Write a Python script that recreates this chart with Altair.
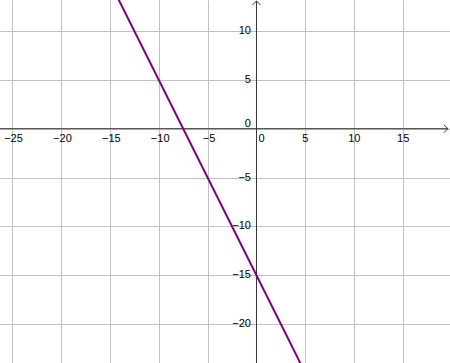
import altair as alt
import pandas as pd

x_domain = [-26.23, 19.79]
y_domain = [-23.96, 13.16]
grid_x = [-25, -20, -15, -10, -5, 0, 5, 10, 15]
grid_y = [-20, -15, -10, -5, 0, 5, 10]
xlab_neg = [-25, -20, -15, -10, -5]
xlab_pos = [5, 10, 15]
ylab = [-20, -15, -10, -5, 5, 10]
line_x = [-15, 5]
line_y = [15, -25]
arrow_x_tip = 19.58
arrow_y_tip = 13.06

xs = alt.Scale(domain=x_domain, nice=False, zero=False)
ys = alt.Scale(domain=y_domain, nice=False, zero=False)

grid_axis_x = alt.Axis(values=grid_x, grid=True, labels=False, ticks=False, domain=False,
                       title=None, gridColor="#c0c0c0", gridWidth=1)
grid_axis_y = alt.Axis(values=grid_y, grid=True, labels=False, ticks=False, domain=False,
                       title=None, gridColor="#c0c0c0", gridWidth=1)

line_df = pd.DataFrame({"x": line_x, "y": line_y})
base = alt.Chart(line_df)

grid = base.mark_line(opacity=0).encode(
    x=alt.X("x:Q", scale=xs, axis=grid_axis_x),
    y=alt.Y("y:Q", scale=ys, axis=grid_axis_y),
)

axis_col = "#333333"
xaxis_line = alt.Chart(pd.DataFrame({"y": [0]})).mark_rule(color=axis_col, strokeWidth=1).encode(
    y=alt.Y("y:Q", scale=ys), x=alt.value(0), x2=alt.value(448))
yaxis_line = alt.Chart(pd.DataFrame({"x": [0]})).mark_rule(color=axis_col, strokeWidth=1).encode(
    x=alt.X("x:Q", scale=xs), y=alt.value(1), y2=alt.value(363))

arrow_r = alt.Chart(pd.DataFrame({"x": [arrow_x_tip], "y": [0]})).mark_point(
    shape="M-1,-1L0,0L-1,1", filled=False, stroke=axis_col, strokeWidth=1, size=64, opacity=1
).encode(x=alt.X("x:Q", scale=xs), y=alt.Y("y:Q", scale=ys))
arrow_u = alt.Chart(pd.DataFrame({"x": [0], "y": [arrow_y_tip]})).mark_point(
    shape="M-1,1L0,0L1,1", filled=False, stroke=axis_col, strokeWidth=1, size=64, opacity=1
).encode(x=alt.X("x:Q", scale=xs), y=alt.Y("y:Q", scale=ys))

font = "Liberation Sans"
fs = 11

xl_neg = alt.Chart(pd.DataFrame({"x": xlab_neg, "y": [0] * len(xlab_neg)})).mark_text(
    font=font, fontSize=fs, color="#000", align="center", baseline="alphabetic", dy=13, dx=1.5
).encode(x=alt.X("x:Q", scale=xs), y=alt.Y("y:Q", scale=ys), text=alt.Text("x:Q"))
xl_pos = alt.Chart(pd.DataFrame({"x": xlab_pos, "y": [0] * len(xlab_pos)})).mark_text(
    font=font, fontSize=fs, color="#000", align="center", baseline="alphabetic", dy=13
).encode(x=alt.X("x:Q", scale=xs), y=alt.Y("y:Q", scale=ys), text=alt.Text("x:Q"))
xl_zero = alt.Chart(pd.DataFrame({"x": [0], "y": [0]})).mark_text(
    font=font, fontSize=fs, color="#000", align="center", baseline="alphabetic", dy=13, dx=5
).encode(x=alt.X("x:Q", scale=xs), y=alt.Y("y:Q", scale=ys), text=alt.Text("x:Q"))

yl = alt.Chart(pd.DataFrame({"x": [0] * len(ylab), "y": ylab})).mark_text(
    font=font, fontSize=fs, color="#000", align="right", baseline="middle", dx=-5.5
).encode(x=alt.X("x:Q", scale=xs), y=alt.Y("y:Q", scale=ys), text=alt.Text("y:Q"))
yl_zero = alt.Chart(pd.DataFrame({"x": [0], "y": [0]})).mark_text(
    font=font, fontSize=fs, color="#000", align="right", baseline="alphabetic", dx=-5.5, dy=-2
).encode(x=alt.X("x:Q", scale=xs), y=alt.Y("y:Q", scale=ys), text=alt.Text("y:Q"))

func = base.mark_line(color="#800080", strokeWidth=2, clip=True).encode(
    x=alt.X("x:Q", scale=xs), y=alt.Y("y:Q", scale=ys))

chart = alt.layer(
    grid, xaxis_line, yaxis_line, arrow_r, arrow_u, xl_neg, xl_pos, xl_zero, yl, yl_zero, func
).properties(
    width=450, height=363, padding=0, autosize=alt.AutoSizeParams(type="none"),
    background="white"
).configure_view(stroke=None)

chart.save("out.html", embed_options={"renderer": "svg", "actions": False})
